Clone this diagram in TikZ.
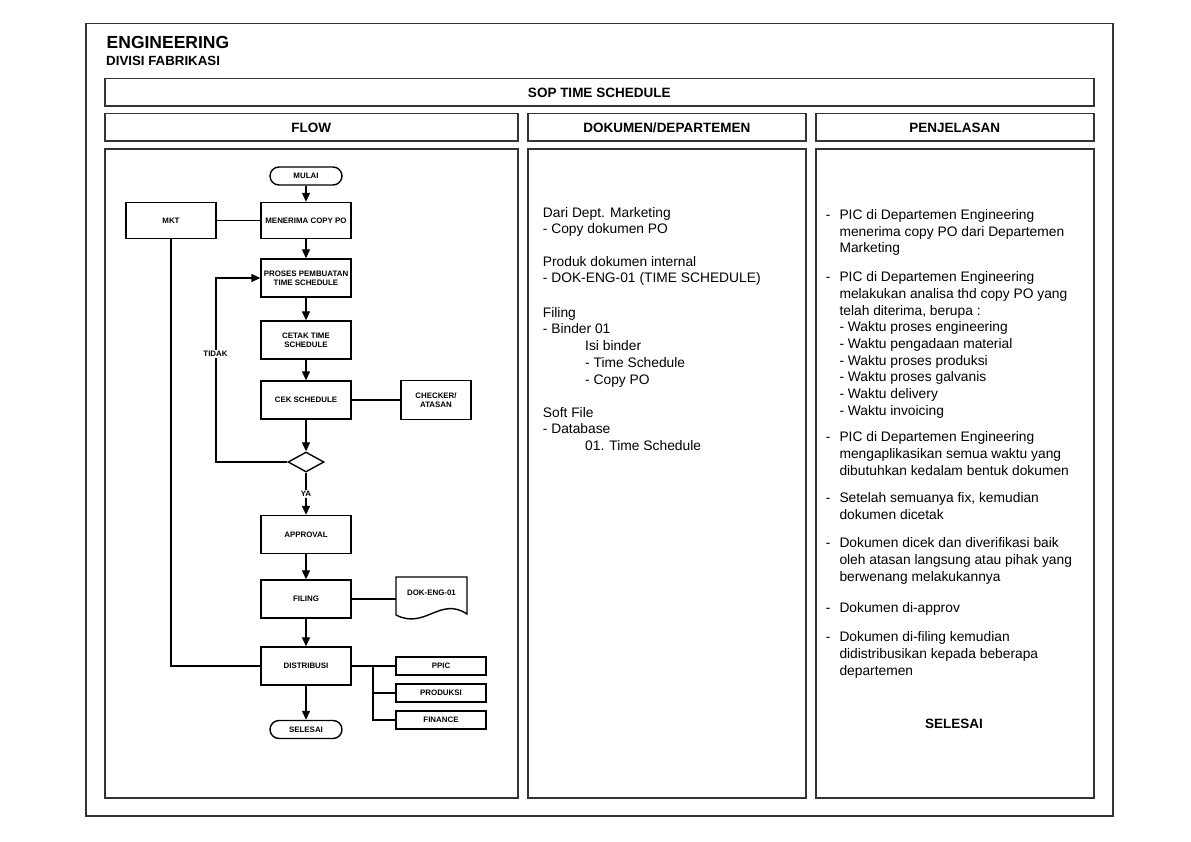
\documentclass[tikz,border=0pt]{standalone}
\usepackage{fontspec}
\setmainfont{Liberation Sans}
\usetikzlibrary{arrows.meta,shapes.geometric,calc}
\begin{document}
\begin{tikzpicture}[x=1pt,y=-1pt,
  frame/.style={draw=black!80,line width=1.5pt,anchor=north west,inner sep=0},
  hdr/.style={font=\fontsize{13.5}{15}\selectfont\bfseries},
  fbox/.style={draw,line width=1.4pt,minimum width=90pt,minimum height=38pt,inner sep=1pt,align=center,font=\fontsize{7.9}{9}\selectfont\bfseries},
  term/.style={fbox,rounded corners=9pt,minimum width=72pt,minimum height=18pt},
  small/.style={fbox,minimum height=18pt},
  decis/.style={draw,line width=1.4pt,shape=diamond,minimum width=36pt,minimum height=20pt,inner sep=0},
  conn/.style={line width=1.3pt},
  arr/.style={conn,-{Triangle[length=9pt,width=8pt]}},
  lbl/.style={fill=white,inner sep=1pt,font=\fontsize{7.9}{9}\selectfont\bfseries},
  txt/.style={inner sep=0,anchor=base west,font=\fontsize{13.8}{16}\selectfont}
]
\useasboundingbox (0,0) rectangle (1191,842);
\fill[white] (0,0) rectangle (1191,842);

% frames
\node[frame,minimum width=1027pt,minimum height=792pt] (outer) at (85,23) {};
\node[inner sep=0,anchor=base west,font=\fontsize{17.5}{20}\selectfont\bfseries] (title) at (106.5,48.3) {ENGINEERING};
\node[inner sep=0,anchor=base west,font=\fontsize{13.3}{15}\selectfont\bfseries] (sub) at (106,65.7) {DIVISI FABRIKASI};
\node[frame,hdr,minimum width=989pt,minimum height=27.5pt] (sop) at (104,78) {SOP TIME SCHEDULE};
\node[frame,hdr,minimum width=413pt,minimum height=27.5pt] (hflow) at (104,113) {FLOW};
\node[frame,hdr,minimum width=278pt,minimum height=27.5pt] (hdok) at (527,113) {DOKUMEN/DEPARTEMEN};
\node[frame,hdr,minimum width=278pt,minimum height=27.5pt] (hpen) at (815,113) {PENJELASAN};
\node[frame,minimum width=413pt,minimum height=648.5pt] (bflow) at (104,148.5) {};
\node[frame,minimum width=278pt,minimum height=648.5pt] (bdok) at (527,148.5) {};
\node[frame,minimum width=278pt,minimum height=648.5pt] (bpen) at (815,148.5) {};

% flowchart nodes
\node[term] (mulai) at (306,176) {MULAI};
\node[fbox,minimum height=36pt] (terima) at (306,220.5) {MENERIMA COPY PO};
\node[fbox,minimum height=36pt] (mkt) at (171,220.5) {MKT};
\node[fbox] (proses) at (306,278) {PROSES PEMBUATAN\\TIME SCHEDULE};
\node[fbox] (cetak) at (306,340) {CETAK TIME\\SCHEDULE};
\node[fbox] (cek) at (306,400) {CEK SCHEDULE};
\node[fbox,minimum width=70pt,minimum height=39pt] (checker) at (436,400) {CHECKER/\\ATASAN};
\node[decis] (dec) at (306,462) {};
\node[fbox] (approval) at (306,534.5) {APPROVAL};
\node[fbox] (filing) at (306,599) {FILING};
\node[fbox] (distribusi) at (306,666) {DISTRIBUSI};
\node[term] (selesai) at (306,729.5) {SELESAI};
\node[small] (ppic) at (441,666) {PPIC};
\node[small] (produksi) at (441,693) {PRODUKSI};
\node[small] (finance) at (441,720) {FINANCE};

% document shape
\node[minimum width=71pt,minimum height=38pt,inner sep=0] (doc) at (431.5,599) {};
\draw[line width=1.4pt] (396,615) -- (396,577) -- (467,577) -- (467,614)
  .. controls (440,596) and (425,630) .. (396,615);
\node[inner sep=0,font=\fontsize{7.9}{9}\selectfont\bfseries] (doctext) at (431.5,593) {DOK-ENG-01};

% connectors
\coordinate (loopx) at (216,0);
\coordinate (br) at (373,666);
\draw[arr] (mulai) -- (terima);
\draw[arr] (terima) -- (proses);
\draw[arr] (proses) -- (cetak);
\draw[arr] (cetak) -- (cek);
\draw[arr] (cek) -- (dec);
\draw[arr] (dec) -- (approval);
\draw[arr] (approval) -- (filing);
\draw[arr] (filing) -- (distribusi);
\draw[arr] (distribusi) -- (selesai);
\draw[conn] (mkt) -- (terima);
\draw[conn] (cek) -- (checker);
\draw[conn] (filing.east) -- (doc.west);
\draw[arr] (dec.west) -- (dec.west -| loopx) |- (proses.west);
\draw[conn] (mkt.south) |- (distribusi.west);
\draw[conn] (distribusi.east) -- (ppic.west);
\draw[conn] (br) |- (produksi.west);
\draw[conn] (br) |- (finance.west);
\node[lbl] (tidak) at (215.5,354) {TIDAK};
\node[lbl] (ya) at (306,494) {YA};

% dokumen column
\foreach \XX/\YY/\TT [count=\i] in {
  542.7/217.7/{Dari Dept. Marketing},
  542.7/233.7/{- Copy dokumen PO},
  542.7/266.1/{Produk dokumen internal},
  542.7/282.7/{- DOK-ENG-01 (TIME SCHEDULE)},
  542.7/317.1/{Filing},
  542.7/333.7/{- Binder 01},
  585/350.4/{Isi binder},
  585/367.1/{- Time Schedule},
  585/384.4/{- Copy PO},
  542.7/417.7/{Soft File},
  542.7/433.7/{- Database},
  585/450.4/{01. Time Schedule}}
  \node[txt] (d\i) at (\XX,\YY) {\TT};

% penjelasan column
\foreach \YY [count=\i] in {219.4,281.7,441.7,502.7,547.7,612.7,641.7}
  \node[txt] (pd\i) at (825.7,\YY) {-};
\foreach \YY/\TT [count=\i] in {
  219.4/{PIC di Departemen Engineering},
  236.1/{menerima copy PO dari Departemen},
  252.8/{Marketing},
  281.7/{PIC di Departemen Engineering},
  298.4/{melakukan analisa thd copy PO yang},
  315.1/{telah diterima, berupa :},
  331.8/{- Waktu proses engineering},
  348.5/{- Waktu pengadaan material},
  365.2/{- Waktu proses produksi},
  381.9/{- Waktu proses galvanis},
  398.6/{- Waktu delivery},
  415.3/{- Waktu invoicing},
  441.7/{PIC di Departemen Engineering},
  458.4/{mengaplikasikan semua waktu yang},
  475.1/{dibutuhkan kedalam bentuk dokumen},
  502.7/{Setelah semuanya fix, kemudian},
  519.4/{dokumen dicetak},
  547.7/{Dokumen dicek dan diverifikasi baik},
  564.4/{oleh atasan langsung atau pihak yang},
  581.1/{berwenang melakukannya},
  612.7/{Dokumen di-approv},
  641.7/{Dokumen di-filing kemudian},
  658.4/{didistribusikan kepada beberapa},
  675.1/{departemen}}
  \node[txt] (p\i) at (839.3,\YY) {\TT};
\node[inner sep=0,anchor=base,font=\fontsize{13.5}{15}\selectfont\bfseries] (pselesai) at (954,728.3) {SELESAI};
\end{tikzpicture}
\end{document}
